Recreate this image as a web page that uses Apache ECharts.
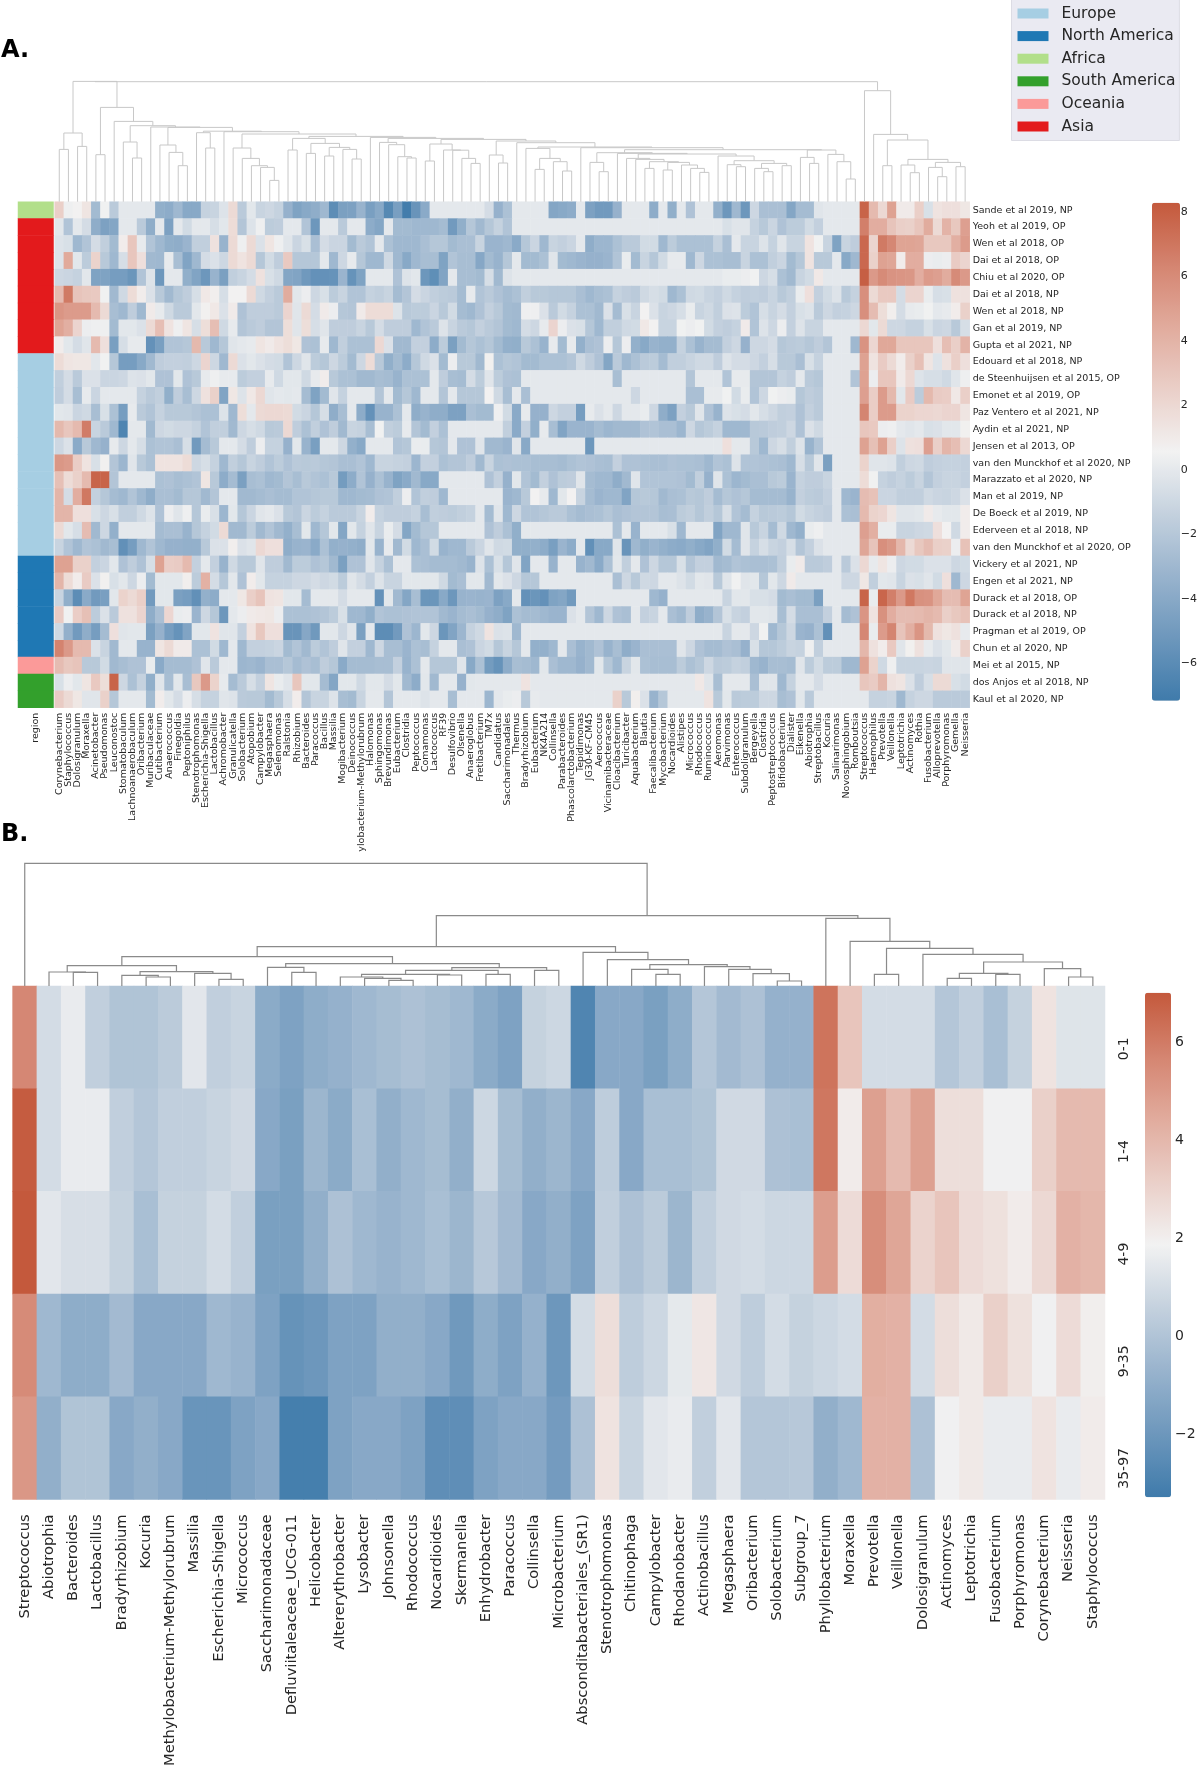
<!DOCTYPE html>
<html>
<head>
<meta charset="utf-8">
<title>Genera heatmaps</title>
<script src="https://cdn.jsdelivr.net/npm/echarts@6/dist/echarts.min.js"></script>
<style>
html, body { margin: 0; padding: 0; background: #fff; }
#main { width: 1200px; height: 1769px; }
</style>
</head>
<body>
<div id="main"></div>
<script>
// panel A
const studiesA = ['Sande et al 2019, NP','Yeoh et al 2019, OP','Wen et al 2018, OP','Dai et al 2018, OP','Chiu et al 2020, OP','Dai et al 2018, NP','Wen et al 2018, NP','Gan et al 2019, NP','Gupta et al 2021, NP','Edouard et al 2018, NP','de Steenhuijsen et al 2015, OP','Emonet et al 2019, OP','Paz Ventero et al 2021, NP','Aydin et al 2021, NP','Jensen et al 2013, OP','van den Munckhof et al 2020, NP','Marazzato et al 2020, NP','Man et al 2019, NP','De Boeck et al 2019, NP','Ederveen et al 2018, NP','van den Munckhof et al 2020, OP','Vickery et al 2021, NP','Engen et al 2021, NP','Durack et al 2018, OP','Durack et al 2018, NP','Pragman et al 2019, OP','Chun et al 2020, NP','Mei et al 2015, NP','dos Anjos et al 2018, NP','Kaul et al 2020, NP'];
const generaA = ['Corynebacterium','Staphylococcus','Dolosigranulum','Moraxella','Acinetobacter','Pseudomonas','Leuconostoc','Stomatobaculum','Lachnoanaerobaculum','Oribacterium','Muribaculaceae','Cutibacterium','Anaerococcus','Finegoldia','Peptoniphilus','Stenotrophomonas','Escherichia-Shigella','Lactobacillus','Achromobacter','Granulicatella','Solobacterium','Atopobium','Campylobacter','Megasphaera','Selenomonas','Ralstonia','Rhizobium','Bacteroides','Paracoccus','Bacillus','Massilia','Mogibacterium','Deinococcus','ylobacterium-Methylorubrum','Halomonas','Sphingomonas','Brevundimonas','Eubacterium','Clostridia','Peptococcus','Comamonas','Lactococcus','RF39','Desulfovibrio','Olsenella','Anaeroglobus','Fretibacterium','TM7x','Candidatus','Saccharimonadales','Thermus','Bradyrhizobium','Eubacterium','NK4A214','Collinsella','Parabacteroides','Phascolarctobacterium','Tepidimonas','JG30-KF-CM45','Aerococcus','Vicinamibacteraceae','Cloacibacterium','Turicibacter','Aquabacterium','Blautia','Faecalibacterium','Mycobacterium','Nocardioides','Alistipes','Micrococcus','Rhodococcus','Ruminococcus','Aeromonas','Parvimonas','Enterococcus','Subdoligranulum','Bergeyella','Clostridia','Peptostreptococcus','Bifidobacterium','Dialister','Eikenella','Abiotrophia','Streptobacillus','Kocuria','Salinarimonas','Novosphingobium','Romboutsia','Streptococcus','Haemophilus','Prevotella','Veillonella','Leptotrichia','Actinomyces','Rothia','Fusobacterium','Alloprevotella','Porphyromonas','Gemella','Neisseria'];
const regionNames = ['Europe','North America','Africa','South America','Oceania','Asia'];
const regionColors = ['#a6cee3','#1f78b4','#b2df8a','#33a02c','#fb9a99','#e31a1c'];
const studyRegion = [2,5,5,5,5,5,5,5,5,0,0,0,0,0,0,0,0,0,0,0,0,1,1,1,1,1,1,4,3,3];
const valuesA = [
[2.5,.4,.6,1.3,-2.8,.5,-1.8,0,0,0, 0,-3.6,-3.8,-3,-4,-4,-1.3,-1.2,-.3,1.9, -1.8,-.1,-1.2,-1,-1.3,-3.4,-4.4,-4,-3.7,-3, -5.9,-4.6,-4.5,-3.3,-4.7,-4,-6.2,-4.7,-7,-5.4, -3.9,0,0,0,0,0,0,-.7,-3.4,-2.4, 0,0,0,0,-4.2,-4,-3.8,0,-4.5,-5, -5,-3.4,0,0,0,-3.8,0,-3.6,0,-2.3, 0,0,-3.5,-5.2,-3,-5.2,-1,-2.5,-2.5,-2.5, -4.2,-2.7,-2.7,-.2,0,0,0,0,7.8,3.6, 2,4.9,1,1,2.5,-.5,1.4,1.6,1.6,1.2],
[-.1,-2.2,0,-.7,-3.7,-4.5,-4.2,0,0,-1.8, -3.7,0,-4.5,0,-.8,0,0,-.6,-.1,1.8, -2.1,-.3,.4,-1.7,-1.6,0,0,-2.2,-5.2,0, 0,-1.8,0,0,-3.8,-4.2,0,-2.8,-2.8,-3, -3,-3,-2.7,-5,-3.6,-2,-2.9,-2,-1.3,-2.2, 0,0,0,0,0,0,0,0,0,0, 0,0,0,0,0,0,0,0,0,0, 0,0,0,-.5,-.2,-.2,-1.3,-1.9,-1.1,-2.3, -1.7,-1.7,-.8,-1.4,0,0,0,0,6.6,4.3, 4.3,3.1,2.5,2.4,3,4.4,1.9,4,2.9,5],
[-.3,-.5,-3,-2.2,-.7,-1.5,-2.8,.9,3,.1, -2.2,-3,-3.6,-3.7,-3.2,-1.5,-1.5,1.5,-3.3,1.9, .4,1.9,-.4,1.3,.4,-.2,-1.1,-.5,-2.5,-.7, -1.1,-1.1,-2.8,-1.8,-2.2,0,-2.4,-3,-3,-3, -2.5,-2,-2,-2.8,-2.5,-2.5,-1.2,-3.2,-3.2,-3, -3.9,-2,-1.1,-3,-1.2,-1.4,-1.1,0,-3.7,-3.1, -3.1,-2.4,-1.8,-1.8,-.8,-.8,-3,-1.7,-2.4,-2.4, -2.4,-2.4,-1.3,-2.5,0,-1.2,-1.2,-.3,-1.3,-.2, -1.2,-1.2,1.4,.5,-1.2,-4.4,-1.2,-1.6,7.6,2.2, 6.8,6.2,4.8,4.8,4.7,2.9,2.9,2.9,4.2,5.2],
[-.3,4.5,-.1,-1.7,2.3,-1.9,-3,-.6,3,1.6, -2.9,-3,.1,-2.6,-4.3,-3,-.7,-.4,-1,1.9, 1.4,1.9,-2,-.8,-1.6,2.8,-2,-2,-2,0, -3,-1,.1,-2,-3,-3,-.9,-3,-4,-3, -2.6,-2.6,-4.4,-2.2,-2.6,-2.6,-4.1,-2.8,-3.3,-2, 0,-2.8,-2.8,-2.4,-.2,-2.8,-3,-3.2,-3.4,-3.4, -3.2,-2.2,.2,-2.8,-1.2,-2,-.8,.1,.1,-3, -1,-2.4,-2.4,-2.6,-2.6,-1.2,-2.4,-2.4,-1.5,-1.1, -2.8,-2,1.4,-1.9,-1.9,0,-4,-3,7.6,2.4, 4.9,4.7,.9,4.3,4.3,.3,.2,.3,2.7,2.2],
[-1,-1.1,-1.3,-.1,-4.4,-4.4,-4.8,-4.8,-5.3,-2.2, -.3,-5.2,0,0,-3.6,-4.3,-5.2,-3.3,-4.6,-1.5, -1.2,-.7,1.5,-.5,-.9,-4.2,-4.3,-5.1,-5.6,-5.6, -5.5,-3.2,-5.5,-4.4,0,0,0,-2.3,-.3,-.1, -5.2,-5.8,-4.3,0,-2.6,-2.6,-2.8,-.6,-2.9,-.3, 0,0,0,0,0,0,0,0,0,0, 0,0,0,0,0,0,0,0,0,0, 0,0,0,.2,.2,.3,.5,-1,-.6,-2.4, -2.9,-1.2,-.8,1.1,0,0,0,0,8,5.3, 6,5.6,5.5,5.4,4.3,5.2,5,4.4,6,5.3],
[3.6,6.8,3.1,2.9,2.8,.5,-2.9,-.9,1.8,.9, -.4,-1.9,-2.9,-2,-1.6,-.6,1.1,.8,-.6,.6, .6,1.9,-.9,-1.4,-1.8,4.4,-.1,.3,-1,-.5, -1.7,-1.2,-2.2,-2.2,-1.3,-1.5,-1.2,-2.7,-2.1,-.7, -1.1,-1.5,-1.7,-1.8,-2.7,.1,-2.2,-1.8,-2.3,-2.7, -2.4,-1.5,-1.9,-1.9,-2,-2,-2,-2.5,-3,-2.6, -2.4,-1.3,-1.6,-1.8,-.9,-.6,-.8,-3,-2.4,-.9, -.8,-1.2,-1.4,-.9,-1.3,-1.6,-1.5,-1.6,-1.2,-1.9, -1.5,.2,1.6,-1.4,-.8,-.3,-1.9,-1.3,5.8,1.9, 2.8,2.8,-.7,2.2,2.2,.2,-.6,-.5,1.5,1.5],
[5.5,5.2,5.2,5.2,3.6,1.9,-2.6,-3,-1.6,-3, 1,.1,-.9,-1.8,-1.8,-.1,.7,1.1,-.4,1, -2.3,-1.6,-1.6,-1.6,-1.8,2.2,-.2,1.9,-.7,1, .3,-2,-2.1,1,1.8,1.8,1.8,-.3,-1.9,-1.7, -1.7,-1.1,-1.9,-.8,-2.7,-3,-2.3,-1.4,-1.9,-2.8, -2.9,.4,.4,-.4,-1.8,-.8,-1.3,-2.4,-2.4,-2.9, -.4,-2.7,-.5,-1.2,.6,-.4,-1.2,-1,-.6,.2, -1.2,-.9,-1.5,-.4,-.3,-1.7,-2.2,-.6,-1.2,-.7, -1.4,-.5,-.3,-1.8,-1,-1.4,-1.3,-1,5.8,3.5, 1.7,.8,-.7,.1,.2,.5,0,.1,.9,2.4],
[4.8,4.2,2.2,.3,.4,.4,-2.8,-.1,-.1,-.4, 1.9,3.4,1.4,.4,1.3,-.6,1.7,3.4,-.9,.1, -2.1,-1.8,-1.6,-2.1,-2.1,1.7,-.2,1.7,-.6,-.2, -1.6,-1.6,-1.6,-1.2,-1.9,-.7,-1.6,-1.6,-1.6,-3, -2.2,-1.8,-.3,-1.2,-1.8,-2,-1.4,-1.8,-2.1,-2.8, -3,-.7,-1,.1,2.2,.3,-.4,-.5,-2,-3, -1.5,-1.5,-.9,-.8,1.1,.6,-1.2,-1.2,.5,.3, .5,-.8,-1.4,-1.6,-1.3,1,-2.2,-.3,-1,.3, -1.4,-.3,-1.2,-1.2,0,0,0,0,2,-.1, 1.9,-1,-1,-1.3,-1.3,-.5,-1.1,-1,-1.9,-.6],
[.9,-.1,-.7,-.2,3.6,1.6,-4.7,-.6,.1,.1, -5.6,-4.7,-2.2,-2.2,-2,3.7,-1.9,-3,-2,-.2, 0,.1,1.3,1,1.4,1.7,1.2,-2.3,-2.4,.1, -3,-1.5,-2.4,-2.4,-2.4,2,-.4,-2.9,-2.9,-1.4, -1.4,-3.8,-1.7,-4.6,-2.8,-2,-2.4,-2,-2.8,-3.5, -3.6,-1.9,-2.4,-3.3,.1,-2.8,.1,-3.5,-2.5,-2.3, .3,-2,.3,-3.5,-4,-3.3,-3.5,-3.5,-1.3,-2.4, -3.3,-2.7,-2.7,-1.4,-1,-3.4,-1,-1,-.7,-2, -1.8,-1.7,-2,-1.6,-2.1,0,0,-3,5.6,2.1, 4.6,4.6,3,3,3,3,1.6,3.4,2.5,4],
[1.8,1.3,1.2,1.2,-.1,.5,-2,-4.8,-4.8,-4, -2.9,-1.6,-1.4,-1.4,-1.5,-1,2.2,-1,-3,1.9, -.4,-.1,-.4,-.7,-.8,-2.2,-1,-.2,-1.7,-2, -1,-1.7,-2.8,-1,1.8,-1.9,-3.6,-2.8,-3.8,-2, -.9,-.4,-2.8,.3,-1.9,-1.9,-2.9,.7,-2.4,-2, -2.2,-2.8,-2.8,-2.4,-2.4,-2.4,-2.1,-.9,-1.6,-2.3, -4.2,-1.8,-3,-2.4,-1.8,-1.7,-2.7,-1.5,-1.5,-1.2, -.9,-.9,-1.6,-.3,-.7,-.7,-1,-1.4,-.6,-1.9, -1.9,-2.5,-.5,-1.3,0,0,0,0,4.9,1.4, 2.7,1.9,.9,2.4,3.3,1.3,-.3,1.5,2.5,1.6],
[-1.5,-.7,-1.8,-.4,-.4,-1.1,-1.1,-1,-.3,-.4, -.1,-2.3,-2.3,-.1,-2.3,-1.9,.1,.4,.1,.1, -1.7,-1.4,-1.4,.1,-.9,-.1,-.1,-.9,.1,.9, -1.9,-2.4,-2.4,-2.9,-2.9,-2.6,-2.7,-3.3,-2.4,-2.4, -2.4,0,-1.6,-2.6,-2.7,-.7,-1.7,-.2,-1.7,-2.3, -2.4,0,0,0,0,0,0,0,0,0, 0,-2.6,0,0,0,0,0,0,0,-2.1, 0,0,0,-2.2,.1,.1,-2.1,-2.1,-2.1,-1.3, -1.6,0,-1.8,-2,0,0,0,-2.2,4.9,.3, 3,3,1,2,-.3,-.6,-.6,-.9,-.2,.4],
[-1.6,-.7,-2.6,.1,-1.1,0,0,0,0,-1.3, -1.8,-1.5,-3.6,-1.6,-2.6,-1,1.5,2.4,-4.3,1.2, -.3,1.1,2,-.2,0,-.1,0,-2.7,-4.4,-2.8, -.2,-1.3,0,0,0,-2.1,0,-2.8,-2,-3, 0,0,-2.1,0,-2,-2,-2,.6,-.9,-2.6, 0,-2.5,0,0,0,0,0,0,0,0, 0,0,0,-1,0,0,0,0,0,-2.5, -2.5,.1,.1,.5,-.8,.2,-2.2,-1,.5,.3, .2,-2,-1.6,-1.8,0,0,0,0,5,2.6, 5.2,3.7,-.1,2.7,-1.7,3.7,2.7,2.6,1.1,2.5],
[-.1,-.2,-1.1,-.9,-2.6,-.5,-2.4,-4.8,.1,-1.8, -2.2,-1.3,-1.9,-1.9,-1.9,-2.1,-2.4,-2.4,-.3,-3, 1.7,0,1.9,2,2,1.9,-.8,-1.1,-2,-.6, -3.7,-2.6,0,-3.8,-5.6,-3.3,-3.3,-2.4,0,-3.7, -3.3,-3.7,-3.7,-4.5,-4.5,-2.5,-2.8,-2.8,.4,-.8, -3.9,.1,-3.4,-3.4,-1,-1.4,-1.4,-4.8,.1,-.4, 0,-1,0,0,.2,-1,-3.7,-4.5,-1.4,-1.9, -.2,-2.3,-3.3,-.3,-.5,-.7,-.1,-.6,-1,-1.5, -1.4,-2.3,-1.4,-1.8,0,0,0,0,6.3,2.6, 5.2,5.2,2.3,2.3,2.1,2.1,2,2.2,2.2,1.3],
[3.7,3,3.6,6.7,-1.2,-1.8,-3,-6.5,0,0, -2.9,-1,-.8,-1,-1,-1.3,-2.2,-1.5,-1.5,-2.9, -1,-.6,-.9,-1.9,-1.8,2,-1.6,-2.4,-1.5,-2.3, -1.6,-2.9,-1.2,-1.3,-2.6,.5,-1.5,-1.7,.1,-2.1, -2.8,-1.4,-2.4,0,0,0,0,0,0,-1.5, -3.9,-1.4,-3.6,.1,-2.6,-4.3,-3.2,-3.2,-3.2,-2.7, -3.1,-2.9,-2.9,-2.9,-2.3,-2.2,-2.5,-2.5,-3.1,-1, -2,-1.7,-1.3,-3,-3,-3,-1.9,-1.8,-1.6,-1.5, -1,-2.3,-.4,-.9,0,0,0,0,3,2.8, .3,.4,0,-.2,0,-.5,-.4,-.1,-.1,.7],
[-1,-.4,-3.9,-1.9,-3,-3.4,.1,-1,0,-.6, -2.4,-2.2,-2.2,-2.5,-.6,-5,-2.7,-1.9,0,0, -.7,-1.6,.3,-1.3,-1.3,-3.4,-.1,-3.3,-4.7,0, 0,-1,-3.5,-4,0,0,0,-2.2,-2,.2, .2,-2,-2.1,0,-2.3,-2.3,-.2,-2.9,-2.9,-3.2, -.2,-4,0,0,0,0,0,0,-5.2,0, 0,0,0,0,0,0,0,0,0,0, 0,0,0,1.6,0,0,-1.9,-3,-1,-.6, -1.5,-.3,-3.3,-2.2,0,0,0,0,4.9,3.3, 4.9,2.5,-.3,1.5,1.6,5,2.5,3.9,3.4,2],
[5.4,5.2,2.6,1.4,-.5,.7,-2.1,-3.1,-.2,-1.9, -2.4,1.4,1.4,1.4,1.8,-1,-.6,-1.3,-3,-1.5, -2,-1.2,-1.6,-2.2,-1.7,-2.3,-1.8,-1.9,-1.8,-2, -2.1,-2.5,-2.5,-2.2,-3,-1.2,-1.2,-1.3,-1.4,-3.1, -1.4,-1.4,-2.4,-2.1,-2.1,-1.6,-2.9,-1.2,-2.4,-2.3, -2.4,-2.4,-2.6,-2.6,-2.6,-2.7,-2.4,-2.2,-2.3,-2.5, -2.6,-1.4,-2.3,-2.3,-2.4,-2.5,-2.5,-2.3,-2.4,-2.4, -2.5,-3,-2.2,-2.4,-.3,-2.2,-2.2,-2.3,-2.4,-2.5, -3,-.6,-1.9,-.2,-4.6,0,0,0,2.3,-.2, -.2,-.3,-1.5,-1,-.9,-1.6,-1.4,-1.3,-1.3,-1.4],
[3.3,1.8,2.4,3.6,7.8,7.8,-2.1,0,0,0, 0,-2.4,-2.3,-2.6,-2.4,-2.2,1.3,-1.9,-3.8,-2.7, -4.6,-2.6,-2.4,-3,-2.8,-2.1,-2.6,-1.9,-2.2,-2.4, -1.9,-4.9,-3.8,-2.2,-3.4,-2.4,-3.3,-4.4,-3.9,-2.9, -4,-4,0,0,0,0,0,-2.3,-1.4,-3.4, -.1,-2.2,-2.8,-1.4,-2.3,-1.7,-1.6,-.2,-2.7,-3, -3,-3.7,-2.9,-.2,-2.2,-2.2,-2.2,-2.2,-2.3,-2.8, -1.5,-3.4,-.2,-2.4,-3.1,-2.8,-2.5,-2.5,-1.9,-1.7, -3.2,-1.3,-1.6,-1.6,-1.2,0,0,0,1.8,.5, -1.3,-1.6,-1.3,-1.7,-1.2,-2.1,-1.4,-1.2,-1.2,-1.4],
[3.9,-.7,4.3,6.9,-1.4,-2,-2.7,-3,-2.2,-3, -3.7,-2.5,-2.5,-2.8,-2,-2,-2.9,-2.1,0,0, -2.9,-2.9,-2.7,-2.5,-2.7,-2.7,-2.2,-2.2,-2,-1.9, -1.9,-3,-3,-2.8,-2.7,-2.3,-2.2,-1.5,.3,-2.2, -1.5,-1.6,-3,0,0,0,0,0,0,-3.2, -3,-1.9,.6,.1,-3,-.1,.6,-1.2,-2.7,-3.2, -3,-3,-4.3,-2,-1.9,-2,-2.9,-2.5,-2.4,-1.9, -2,-1.6,-2.7,-2,-2.3,-2,-2.7,-2.7,-2.7,-2.7, -3.3,-1.4,-1.7,-1.8,-1.4,0,-3,-3.2,3.5,3.2, -1.1,-1.1,-1.5,-1.5,-1.5,-.9,-1.1,-1.2,-1,-.4],
[3.9,3.9,1.6,1.6,-.5,-1,-.5,-1.5,-1.5,-.9, -.3,-2.3,.3,-.2,.4,-2,.2,-.5,-3.1,-.1, -2,-1.1,-.2,0,-.4,-1.9,-2.1,-1.1,-1.7,-1.3, -1.8,-1.8,-1.8,-1.2,.9,-1.3,-1.6,-1.6,-1.6,-1.3, -2.6,-1.5,-1.6,-1.7,-1.5,-1.3,0,-2.7,-.2,-3, -1,-2.2,-2.2,-2,-1.8,-1.8,-2.4,-2.7,-2.5,-2.4, -2,-2.5,-2.3,-2.1,-2.1,-2.1,-2.6,-2.5,-1.7,-1.5, -2,-1.5,-2,-.6,-2.2,-2.7,-1.3,-1.9,-1.8,-1.7, -2,-.8,-1.2,-1.4,-1.6,0,-2.4,-2.5,3.6,2.3, 2.1,1.3,-.2,-.2,-.1,1,.1,-.1,-.1,.9],
[1.9,-.1,-.6,3.5,-2.9,-1,-3.5,0,0,0, 0,-2.7,-2.5,-2.5,-3.3,-2,-1.3,-.8,1.9,-2.9, -2.9,-1.7,-2.9,-2.2,-2.9,-3.5,-2.6,-.1,-3,-2, -.1,-4.2,-.1,-1.3,-.2,-1.2,.2,-.7,-4.2,-2.8, -2,-2,0,0,0,0,0,-2.3,-1.6,-2.4, -3.6,0,0,0,0,0,0,0,0,0, 0,-2.4,0,-3.3,0,0,0,-.5,-3,0, 0,0,-4.3,-3,-3,-.2,-1.9,-1.2,-2.7,-.9, -3,-3.5,.2,.4,0,0,0,0,5,4.2, .2,.2,-1.2,-1.2,-1,-.9,1.6,.6,-.9,.9],
[-1.2,-2.2,-3,-2.2,-2.4,-2.9,-2.6,-5.7,-4.8,-3, -2.2,-3,-3.4,-3.4,-3.5,-3.5,-1.9,-.4,-.4,.8, -.4,-.2,2,1.6,1.6,-3.7,-3.3,-3.2,-3.9,-2.4, -3.5,-3.4,-3.5,-3.7,-.1,-3.3,.1,-2.9,-.8,-3, -2.5,-.8,-3.3,-3,-3,-1.8,-1.1,-.2,-.9,-.8, -3.6,-3.6,-3.5,-3.8,-4.7,-3.2,-3.8,0,-5.7,-4, -4,-.2,-5.4,-3,-3.6,-3.2,-3.5,-3.8,-3.9,-3.6, -4,-4.3,-3.6,-.8,-2.7,-.2,-1.3,-.6,-1.2,-1.4, -.6,-2.1,-1.4,-.4,0,0,0,0,4.7,3.1, 5.8,5.4,3.8,1.9,2.9,3.5,2.5,2.4,.3,3.2],
[4.9,4.9,2.4,2.4,-1.4,-1.1,-.1,-2.3,-1.6,-2.3, -.6,4.9,2.6,2.7,3.6,-1.4,0,-1.4,-3.3,-.9, -1.9,-1.9,-.2,-1.6,-1.6,-2.9,-1.7,-1.7,-2.3,-2, -2.9,-4.6,-2.3,-2.3,-.2,-1.3,-2.4,0,0,-2.4, -2.5,-2.7,-2.7,-2.7,-2.9,-3.3,-.3,-2.4,-.5,-2, -.2,-4.3,0,0,-3.3,0,0,-3.3,-2.9,-3.9, -2.4,-.1,-1.5,0,-2.3,-1,-2,-2,-.5,-2.1, -1.4,-1.4,-2.9,-2.7,-2.2,-2.4,-2.5,-2.5,-2.4,-1.5, .2,1,-1.8,-1.8,-1.6,0,-1.8,-.4,2,.1, 1.3,.3,-1,-.8,-.8,-.4,-.4,-.4,-1,-.8],
[3.9,1.8,.9,2.7,-.4,.7,-.5,-.1,-1,.3, -2.8,-.1,-.1,-.1,.8,-1.7,4.1,-.7,-2,-.1, -2.3,.9,-.1,-1.3,-1.3,-1.3,-1,-1,-.7,-1, -.8,-1.7,-.2,-.7,-1.4,-.3,-1.2,-1.2,-.1,-.1, -.1,-.1,-.9,-2.8,-2.5,-.1,-.1,-2.9,-.1,-.4, -1,-2,-2,0,0,0,0,0,0,0, 0,-2.5,-1,-1.9,-.9,-1,0,0,-.3,-.8, -.1,-.2,-1.9,-.2,.5,-.2,-.1,-2,-.1,-1, 1,0,0,0,0,0,-1,-1,1.2,-1.5, -.1,-.2,-1.2,-.4,-.5,-.2,-.8,1.6,-3,-1],
[-1.2,-3.6,-5.9,-3.9,-5,-4.7,-.1,2.3,1.9,2.5, -5,-.1,-.1,-4.6,-4.8,-5.7,-3.5,-3.8,0,0, 1.2,2.5,3.1,1.4,1.3,-.1,-.1,-2.7,0,0, 0,-.7,0,0,0,-5.6,-.1,-2.9,-4.2,-2.6, -5.3,-5.3,-4,-5.2,-3.3,-3.2,-3.3,-3.2,-4.5,-4, 0,-5.6,-5.3,-5.6,-4.4,-4.2,-5,0,0,0, 0,0,0,0,0,-3,-3.4,0,0,0, 0,0,0,-1.2,-.1,-.1,-.5,-.5,-.7,-2.8, -2.5,-2.8,-2.8,-4.6,0,0,0,0,7.8,.2, 7.7,6.6,5.3,6.9,5.7,5.6,4.6,3.5,3.5,4.8],
[2.7,.5,2.6,3.3,-1.7,-.4,-1.8,1.5,1.5,2.2, -3.7,-2.5,2.1,.2,.3,-3.2,-1,-2,-5.2,0, .3,1,1.1,1.2,.3,-2.4,-2.4,-2.4,-2.3,-2.1, -1.7,-.5,-3,-3,-3.6,-2.2,-2.4,-2.4,-2.3,-2.2, -2.2,-2.2,-2.9,-3.2,-2.7,-2.5,-2.8,-3.4,-3.7,-4.4, -2.4,-2.7,-2.7,-3,-3.2,-3.2,-.4,0,-2.1,-3, -1,-2.3,-2.5,0,-1.4,-1.2,0,-2.5,-2.9,-1.6, -3.7,-3.3,-2.1,-.5,-1.2,-1.4,-.1,-.1,-.2,-2.6, -.7,-2.5,-2.5,-2.5,-1.4,0,-2.7,-2.3,5.5,1.4, 5.7,4.3,3.5,3.5,3.6,3.9,3.6,2.5,2.9,3.2],
[-.9,-3.5,-5,-3.7,-4.8,-2.7,1.6,-.2,-.1,-.1, -4.6,-3.4,-4.8,-5.5,-4.3,-.1,-.1,1.4,-.2,-.2, -1.4,1.4,2.9,1.6,1.6,-5.4,-5.4,-4.1,-5.1,-.1, -.1,-1,-.2,-4.6,0,-5.9,-5.9,-5,-2.3,-3.1, -.1,-1,-5.3,-4.3,-3.1,-1.3,-.9,1.4,-.4,-.3, -3,0,0,0,0,0,0,0,0,0, 0,0,0,0,0,0,0,0,0,0, 0,0,0,-1.2,0,0,-1,.5,-3,-2, -1,-3.2,-3.4,-2.4,-5.7,0,0,0,6.2,.2, 5.2,6.3,3.1,4.2,5.5,3.7,1.5,1.2,1.5,.1],
[6.4,5.3,3.6,3.6,-.4,-1.2,-2.9,0,0,-3.3, -3.3,1.3,1.9,1,1,-2.4,-2.4,-.8,-3,0, -3,-1.4,-1.4,-1.3,-1.1,-2.8,-2.2,-2.9,-1.7,-2.2, -1.6,-.2,-1.4,-1.4,-3,-1,-2.6,-2.6,-3.2,-2.4, -2.6,-1.3,0,0,-2.5,-2.3,-1.1,-.8,-2,-1.2, -2,0,-3.5,-3.5,-3,0,-2.5,-3.3,-2.9,-2.3, -3.3,-2.6,-3.7,-3.2,-2.5,-2.5,-2.5,-2.5,-.2,-1, -2.3,-2.7,-2.7,-2.3,-2.5,-3.4,-.5,-2,-2,-1.7, -1.2,-1.3,.4,-1.5,0,0,0,0,3.8,1.5, .9,2.8,-.2,.7,1.5,.1,-.4,-.1,1,2.4],
[3.5,2.9,3.1,-1.9,-1.9,-.8,-2.9,-2.6,-2.3,-2.3, .2,-3.9,-2.7,-2.7,-2.7,-2.3,-.2,-1.8,0,0, -3.1,-3,-3.2,-2.5,-2.5,-2,-2.7,-2.3,-2.6,-1.6, -2,-3.9,-2.7,-2.7,-2.7,-2.6,-2.6,-1.4,-3.3,-2.4, 0,-2,-2,-2,-.2,-4,-2.4,-4.9,-5.5,-3.8, -2.6,-2.7,-3,-.1,-2.5,-3,-3,-3.4,-2.9,-.1, -2,-3,-1.2,-.1,-2.4,-2.6,-2.6,-2.6,-1.7,-2.4, -2,-1,-1.8,-1.7,-1.3,-1.5,-3,-3.3,-2.6,-2.6, -2.7,-.2,-1.7,-.8,-1.7,-1.7,-3,-3,4.9,2.3, -.9,.4,-1.2,-1.2,-1.2,-1.1,-1.2,-.2,-.2,-.2],
[-.5,.3,-.1,1.3,2.8,1.7,7.8,-1,-2.4,-1.3, -3.6,-.2,-2.6,-.1,-2.6,2.9,5.3,2.3,.1,-2.7, -1.8,-.6,-1.4,1.3,.2,-.2,3,-.1,-.1,-2.7, -4.2,-.1,-.1,-.9,-.1,-.1,-.7,-.1,-2.9,-3.8, -.1,-2.9,0,0,-3.4,-.1,0,0,0,0, 0,1.4,0,0,0,0,0,0,0,0, 0,0,0,0,0,0,0,0,0,0, 1.1,-.2,-2.6,0,0,0,-2.5,-.2,-.2,-3, -1.3,0,0,-.7,0,0,0,0,3,2.7, 3.9,1.5,1.3,-.4,-1.6,-.6,1.9,1.9,-.5,-.8],
[2.7,1.9,1.2,-.2,-.2,2.4,-2,0,0,0, -2.8,.9,-.1,-.7,.3,-.6,-1.3,-1.3,-.2,-.3, -1.8,-1.9,-1.9,-2.8,-1.9,-.6,.9,-2.1,-1.2,-1.2, -.3,-2.6,-2.8,-1.2,0,0,-2.1,0,0,0, -.3,0,0,-2.6,0,0,0,-3.1,0,.2, .3,-1.9,.1,0,0,0,0,0,0,0, 0,2.4,-1.9,.8,-.4,-3.3,-2,0,0,0, 0,1.4,-1.9,-.1,-1.8,-1.7,-1.7,-1,-1,-2.6, -2.3,-.1,-1.8,0,0,0,0,0,0,-1.3, -1.3,-1.2,-3,-1.3,-1,-1,-1.8,-1.8,-1.8,-1.8]
];
const colorTicksA = [-6,-4,-2,0,2,4,6,8];
const colorMinA = -7.15;
const colorMaxA = 8.29;

// panel B
const ageGroups = ['0-1','1-4','4-9','9-35','35-97'];
const generaB = ['Streptococcus','Abiotrophia','Bacteroides','Lactobacillus','Bradyrhizobium','Kocuria','Methylobacterium-Methylorubrum','Massilia','Escherichia-Shigella','Micrococcus','Saccharimonadaceae','Defluviitaleaceae_UCG-011','Helicobacter','Altererythrobacter','Lysobacter','Johnsonella','Rhodococcus','Nocardioides','Skermanella','Enhydrobacter','Paracoccus','Collinsella','Microbacterium','Absconditabacteriales_(SR1)','Stenotrophomonas','Chitinophaga','Campylobacter','Rhodanobacter','Actinobacillus','Megasphaera','Oribacterium','Solobacterium','Subgroup_7','Phyllobacterium','Moraxella','Prevotella','Veillonella','Dolosigranulum','Actinomyces','Leptotrichia','Fusobacterium','Porphyromonas','Corynebacterium','Neisseria','Staphylococcus'];
const valuesB = [
[5.6,1,1.6,.5,0,0,.3,1.4,.5,.7, -1.1,-1.5,-1,-.8,-.5,-.3,-.1,-.3,-.5,-1.1, -1.5,.6,.8,-2.8,-1.2,-1.2,-1.6,-1,.1,-.4, -.1,-.8,-.8,6.2,3.5,1,1,1,.1,.5, -.2,.6,2.4,1.3,1.3],
[6.9,1,1.6,1.6,.5,.1,.5,.5,.7,.9, -1.2,-1.6,-.6,-1.1,-.2,-.9,-.5,-.3,-.9,.8, -.3,-.9,-.6,-1.2,.4,-1.2,-.2,-.2,0,.9, .9,-.1,-.2,6.1,2.1,4.8,3.9,4.8,2.6,2.6, 1.8,1.8,3.1,3.9,3.9],
[7,1.4,1.1,1.1,.6,-.2,.6,.6,1,.5, -1.6,-1.6,-.9,-.1,-.5,-.7,-.5,-.2,-.6,.2, -.4,-1.2,-.9,-1.5,.5,-.1,.3,-.6,.5,.9, 1,.8,.8,4.9,2.7,5.4,4.6,3,3.5,2.7, 2.5,2.1,2.8,4.2,4],
[5.5,-.5,-1,-1,-.4,-1.2,-1.2,-1.2,-.5,-.7, -1.5,-2.2,-2,-1.5,-1.5,-.9,-.9,-1.2,-1.9,-1, -1.5,-.8,-2,1,2.6,.4,.8,1.5,2.3,.9, .4,1,.6,.8,1,4.3,4.2,1,2.6,2.2, 3.1,2.5,1.8,2.7,2],
[5.1,-.9,0,0,-1.2,-.9,-1.2,-2.1,-2.1,-1.5, -1.2,-3.1,-3.1,-1.5,-1.2,-1.2,-1.5,-2.4,-2.4,-1.5, -1.2,-1.2,-1.8,-.1,2.4,.7,1.4,1.6,.5,1.4, .1,.1,.2,-.9,-.5,4.2,4.2,-.1,1.8,2.2, 1.6,1.6,2.4,1.6,2.1]
];
const colorTicksB = [-2,0,2,4,6];
const colorMinB = -3.28;
const colorMaxB = 7;

// dendrograms: [merge height, left child, right child], 0 is a leaf
const aPair = [47,0,0];
const aFirst = [68.7,[52.3,0,0],[55.3,0,0]];
const a244 = [59.7,0,[43.7,0,0]];
const a253 = [56.7,0,[49.3,0,[36,0,0]]];
const a216 = [69,0,[53.7,0,0]];
const a262 = [53.7,0,[43.3,0,[36,0,[34.3,0,[21.3,0,0]]]]];
const a233 = [63.3,[51.7,0,0],[58.3,[48.3,0,0],[54.3,[45.7,0,0],[52.3,0,[42.7,0,0]]]]];
const a245 = [59.3,0,[57,0,[45,0,[43.7,0,0]]]];
const a250 = [57.7,[40.7,0,0],[51.7,0,[51.5,0,[43.3,0,[38.3,0,0]]]]];
const a445 = [53.3,0,[43.3,[32.3,0,0],[40,0,[30.7,0,0]]]];
const a475 = [43.3,0,[42.3,0,[40,[33.3,0,0],[39.3,[31.7,0,0],[36.7,0,[33.3,0,[29.3,0,0]]]]]]];
const a468 = [45.7,0,[41,[37,0,[35,0,0]],[38.3,[33.3,0,[30,0,0]],[36,0,0]]]];
const a460 = [48.3,0,[47.7,a475,a468]];
const a458 = [49,[39.3,0,[30,0,0]],a460];
const a450 = [51.7,[44.3,0,[38.3,0,0]],[47.3,0,[40,0,[22.7,0,0]]]];
const a441 = [54.7,a445,[54,0,[52,a458,a450]]];
const a243 = [60.7,[46.7,0,[38.7,0,0]],[59,0,a441]];
const a230 = [64.3,0,[63.3,a245,[62.3,a250,a243]]];
const a220 = [67.7,a262,[65.3,a233,a230]];
const a200 = [74.3,a253,[70.5,a216,[70,0,a220]]];
const a140 = [94.3,aPair,[80.3,0,[76,a244,[74.7,0,a200]]]];
const aRight = [111,0,[67.3,0,[61.7,[36,0,0],[42.3,[36.7,0,[29,0,0]],[39.3,[34.3,0,[25,0,0]],[35,0,0]]]]]];
const treeA = [120,[120.3,aFirst,a140],aRight];

const b1 = [20.3,[14,0,[13.7,0,0]],[14.3,[10.7,0,[9,0,0]],[12.7,0,[6.7,0,0]]]];
const b2 = [22.3,[18.7,0,[13.7,0,0]],[18.3,[15.7,[11.7,[9,0,[7.7,0,[5.7,0,0]]],[11,0,0]],[11.7,0,0]],[15.7,0,0]]];
const b3 = [33.7,0,[26.3,0,[21.3,[16.7,0,[11.7,0,0]],[19.3,0,[16.7,0,[12.3,0,[5,0,0]]]]]]];
const b4 = [67.7,0,[44.7,0,[37.7,[11.7,0,0],[31.7,0,[24,[12.7,[7.7,0,0],[11.7,0,0]],[17.3,0,[9,0,0]]]]]]];
const treeB = [122.7,0,[70.3,[39.3,[29.3,b1,b2],b3],b4]];

// 9 stops, seaborn style diverging palette
const palette = ['#3f7bab','#6d97bc','#98b3cd','#c4d1de','#f2f2f2','#eacfc8','#e1ab9d','#d48470','#c4593c'];

function cells(rows) {
    var out = [];
    rows.forEach(function (row, y) {
        row.forEach(function (v, x) { out.push([x, y, v]); });
    });
    return out;
}

function links(tree) {
    var out = [], next = 0;
    function walk(n) {
        if (n === 0) { next++; return { x: next - 0.5, h: 0 }; }
        var l = walk(n[1]), r = walk(n[2]);
        out.push([l.x, r.x, l.h, r.h, n[0]]);
        return { x: (l.x + r.x) / 2, h: n[0] };
    }
    walk(tree);
    return out;
}

function dendroSeries(tree, axis, color, width) {
    return {
        type: 'custom',
        xAxisIndex: axis,
        yAxisIndex: axis,
        silent: true,
        clip: false,
        encode: { x: [0, 1], y: [2, 3, 4] },
        data: links(tree),
        renderItem: function (params, api) {
            var pts = [
                api.coord([api.value(0), api.value(2)]),
                api.coord([api.value(0), api.value(4)]),
                api.coord([api.value(1), api.value(4)]),
                api.coord([api.value(1), api.value(3)])
            ];
            return { type: 'polyline', shape: { points: pts }, style: { stroke: color, fill: null, lineWidth: width } };
        }
    };
}

function minusSign(v) { return String(v).replace('-', '\u2212'); }

function hiddenAxis(grid, type, extra) {
    return Object.assign({ type: type, gridIndex: grid, show: false }, extra);
}

var chart = echarts.init(document.getElementById('main'), null, { renderer: 'canvas' });
var option = {
    animation: false,
    backgroundColor: '#fff',
    textStyle: { fontFamily: 'DejaVu Sans' },
    title: [
        { text: 'A.', left: 1, top: 39, padding: 0, textStyle: { fontSize: 24, fontWeight: 'bold', color: '#000', fontFamily: 'DejaVu Sans' } },
        { text: 'B.', left: 1, top: 823, padding: 0, textStyle: { fontSize: 24, fontWeight: 'bold', color: '#000', fontFamily: 'DejaVu Sans' } }
    ],
    grid: [
        { left: 54.7, top: 201.7, width: 915, height: 506 },
        { left: 18, top: 201.7, width: 35.5, height: 506 },
        { left: 54.7, top: 80.7, width: 915, height: 121 },
        { left: 12.6, top: 986, width: 1092.4, height: 515.7 },
        { left: 12.6, top: 860, width: 1092.4, height: 126 },
        { left: 1152, top: 202.7, width: 28, height: 498 },
        { left: 1145, top: 992.8, width: 26, height: 504.4 }
    ],
    xAxis: [
        { type: 'category', gridIndex: 0, data: generaA, position: 'bottom', axisLine: { show: false }, axisTick: { show: false }, splitArea: { show: false },
          axisLabel: { interval: 0, rotate: 90, fontSize: 9.5, color: '#262626', margin: 5, hideOverlap: false } },
        { type: 'category', gridIndex: 1, data: ['region'], axisLine: { show: false }, axisTick: { show: false },
          axisLabel: { interval: 0, rotate: 90, fontSize: 9.5, color: '#262626', margin: 5 } },
        hiddenAxis(2, 'value', { min: 0, max: 100 }),
        { type: 'category', gridIndex: 3, data: generaB, axisLine: { show: false }, axisTick: { show: false },
          axisLabel: { interval: 0, rotate: 90, fontSize: 14.7, color: '#262626', margin: 15, hideOverlap: false } },
        hiddenAxis(4, 'value', { min: 0, max: 45 }),
        hiddenAxis(5, 'value', { min: 0, max: 1 }),
        hiddenAxis(6, 'value', { min: 0, max: 1 })
    ],
    yAxis: [
        { type: 'category', gridIndex: 0, data: studiesA, inverse: true, position: 'right', axisLine: { show: false },
          axisTick: { length: 3, lineStyle: { color: '#262626' } },
          axisLabel: { interval: 0, fontSize: 9.5, color: '#262626', margin: 3 } },
        hiddenAxis(1, 'category', { data: studiesA, inverse: true }),
        hiddenAxis(2, 'value', { min: 0, max: 121 }),
        { type: 'category', gridIndex: 3, data: ageGroups, inverse: true, position: 'right', axisLine: { show: false },
          axisTick: { length: 4, lineStyle: { color: '#262626', width: 1.2 } },
          axisLabel: { interval: 0, fontSize: 14, color: '#262626', rotate: 90, align: 'right', margin: 12 } },
        hiddenAxis(4, 'value', { min: 0, max: 126 }),
        { type: 'value', gridIndex: 5, position: 'right', min: colorMinA, max: colorMaxA, axisLine: { show: false }, splitLine: { show: false },
          axisTick: { length: 3, customValues: colorTicksA, lineStyle: { color: '#262626' } },
          axisLabel: { customValues: colorTicksA, fontSize: 11, color: '#262626', margin: 3, formatter: minusSign } },
        { type: 'value', gridIndex: 6, position: 'right', min: colorMinB, max: colorMaxB, axisLine: { show: false }, splitLine: { show: false },
          axisTick: { length: 4, customValues: colorTicksB, lineStyle: { color: '#262626' } },
          axisLabel: { customValues: colorTicksB, fontSize: 14, color: '#262626', margin: 4, formatter: minusSign } }
    ],
    visualMap: [
        { type: 'continuous', seriesIndex: 0, min: colorMinA, max: colorMaxA, calculable: false, hoverLink: false, realtime: false,
          left: 1152, top: 202.7, padding: 0, itemWidth: 28, itemHeight: 498, text: null, showLabel: false, inRange: { color: palette } },
        { type: 'continuous', seriesIndex: 1, min: colorMinB, max: colorMaxB, calculable: false, hoverLink: false, realtime: false,
          left: 1145, top: 992.8, padding: 0, itemWidth: 26, itemHeight: 504.4, text: null, showLabel: false, inRange: { color: palette } },
        { type: 'piecewise', seriesIndex: 2, orient: 'vertical', inverse: true, selectedMode: false, hoverLink: false,
          left: 1011, top: -1, padding: [6, 4, 6, 6], itemWidth: 31, itemHeight: 10, itemGap: 6.6, itemSymbol: 'rect', align: 'left', textGap: 13,
          backgroundColor: '#eaeaf2', borderColor: '#dcdce4', borderWidth: 1,
          textStyle: { fontSize: 15.5, color: '#262626' },
          pieces: regionNames.map(function (name, i) { return { value: i, label: name, color: regionColors[i] }; }) }
    ],
    series: [
        { type: 'heatmap', xAxisIndex: 0, yAxisIndex: 0, silent: true, data: cells(valuesA) },
        { type: 'heatmap', xAxisIndex: 3, yAxisIndex: 3, silent: true, data: cells(valuesB) },
        { type: 'heatmap', xAxisIndex: 1, yAxisIndex: 1, silent: true, data: studyRegion.map(function (r, y) { return [0, y, r]; }) },
        dendroSeries(treeA, 2, '#c8c8c8', 1),
        dendroSeries(treeB, 4, '#8a8a8a', 1.2)
    ]
};
chart.setOption(option);
</script>
</body>
</html>
